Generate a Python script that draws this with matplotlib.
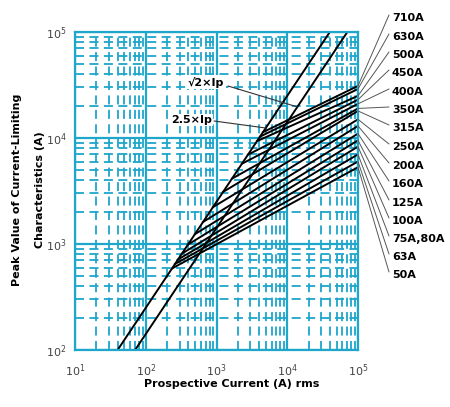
import matplotlib
matplotlib.use("Agg")
import matplotlib.pyplot as plt
from matplotlib.patches import ConnectionPatch
import numpy as np

# fuse ratings (top to bottom) and their current-limiting lines
ratings = ["710A", "630A", "500A", "450A", "400A", "350A", "315A", "250A",
           "200A", "160A", "125A", "100A", "75A,80A", "63A", "50A"]
# prospective current where each line leaves the 2.5xIp line (A rms)
start_ip = [4540, 4120, 3735, 2790, 2290, 1655, 1240, 890,
            645, 495, 395, 325, 286, 259, 235]
# peak value at 100 kA prospective
end_peak = [31000, 29000, 25000, 23000, 21000, 19000, 18000, 15000,
            13000, 11000, 9500, 8300, 7000, 6000, 5300]
# label centres, pixels from top of the picture
label_y = [18, 37, 55, 73, 92, 110, 128, 147, 166, 184, 203, 221, 239, 257, 275]

ip_factors = [2.5, np.sqrt(2)]

W, H = 450, 407
grid_col = "#1fa6cb"

fig = plt.figure(figsize=(W / 100, H / 100), dpi=100)
ax = fig.add_axes([75 / W, 1 - 350 / H, 283 / W, 318 / H])
ax.set_xscale("log")
ax.set_yscale("log")
ax.set_xlim(1e1, 1e5)
ax.set_ylim(1e2, 1e5)

ax.grid(True, which="major", color=grid_col, lw=1.6, ls="-")
ax.grid(True, which="minor", color=grid_col, lw=1.3, ls=(0, (5, 3)))
ax.set_axisbelow(True)
for s in ax.spines.values():
    s.set_color(grid_col)
    s.set_linewidth(1.6)
ax.tick_params(which="both", length=0, labelsize=8, labelcolor="#444444")
ax.tick_params(axis="x", pad=9)
ax.tick_params(axis="y", pad=6)
ax.set_xticks([1e1, 1e2, 1e3, 1e4, 1e5])
ax.set_yticks([1e2, 1e3, 1e4, 1e5])

# steep lines  peak = k * Ip
xs = np.array([1e1, 1e5])
for k in ip_factors:
    ax.plot(xs, k * xs, color="black", lw=1.4)

# fuse lines
for ip0, pk in zip(start_ip, end_peak):
    ax.plot([ip0, 1e5], [2.5 * ip0, pk], color="black", lw=1.4)

# labels on the right with leader lines
for lab, pk, ly in zip(ratings, end_peak, label_y):
    fig.text(392 / W, 1 - ly / H, lab, fontsize=8, fontweight="bold",
             va="center", ha="left")
    con = ConnectionPatch(xyA=(1e5, pk), coordsA=ax.transData,
                          xyB=(389 / W, 1 - (ly - 3) / H), coordsB=fig.transFigure,
                          color="#555555", lw=0.7)
    fig.add_artist(con)

# Ip factor labels
box = dict(facecolor="white", edgecolor="none", pad=1)
fig.text(188 / W, 1 - 82 / H, "√2×Ip", fontsize=8, fontweight="bold",
         va="center", ha="left", bbox=box)
fig.add_artist(ConnectionPatch(xyA=(228 / W, 1 - 86 / H), coordsA=fig.transFigure,
                               xyB=(13900, np.sqrt(2) * 13900), coordsB=ax.transData,
                               color="#333333", lw=0.8))
fig.text(171 / W, 1 - 120 / H, "2.5×Ip", fontsize=8, fontweight="bold",
         va="center", ha="left", bbox=box)
fig.add_artist(ConnectionPatch(xyA=(214 / W, 1 - 121 / H), coordsA=fig.transFigure,
                               xyB=(4970, 2.5 * 4970), coordsB=ax.transData,
                               color="#333333", lw=0.8))

fig.text(232 / W, 1 - 384 / H, "Prospective Current (A) rms", fontsize=8,
         fontweight="bold", ha="center", va="center")
fig.text(17 / W, 1 - 190 / H, "Peak Value of Current-Limiting", fontsize=8,
         fontweight="bold", ha="center", va="center", rotation=90)
fig.text(40 / W, 1 - 190 / H, "Characteristics (A)", fontsize=8,
         fontweight="bold", ha="center", va="center", rotation=90)

fig.savefig("out.png", dpi=100, facecolor="white")
